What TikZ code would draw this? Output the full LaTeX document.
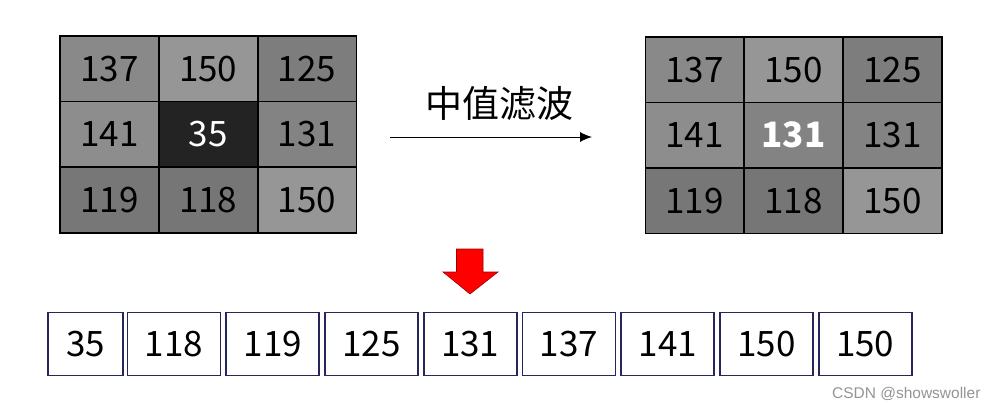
\documentclass[tikz,border=0pt]{standalone}
\usepackage{fontspec}
\usetikzlibrary{arrows.meta}
\setmainfont{Noto Sans CJK SC}
\newfontfamily\wmfont{Liberation Sans}
\begin{document}
\begin{tikzpicture}[x=1pt,y=-1pt,
  cellbox/.style={draw=black,line width=1.5pt,minimum width=98.5pt,minimum height=65.5pt,inner sep=0pt,font=\fontsize{35}{35}\selectfont,text=black},
  seqbox/.style={draw=blue!25!black!85,line width=1.6pt,minimum width=93pt,minimum height=63pt,inner sep=0pt,font=\fontsize{35}{35}\selectfont,text=black,fill=white}]
\useasboundingbox (0,0) rectangle (999,410);
% left grid
\foreach \v [count=\i from 0] in {137,150,125,141,35,131,119,118,150} {
  \pgfmathtruncatemacro{\c}{mod(\i,3)}
  \pgfmathtruncatemacro{\r}{div(\i,3)}
  \definecolor{cc}{RGB}{\v,\v,\v}
  \node[cellbox,fill=cc] (L\i) at ({60+98.8*\c+49.4},{36+65.6*\r+32.8}) {\ifnum\i=4\else\v\fi};
}
\node[text=white,font=\fontsize{35}{35}\selectfont] at (L4) {35};
% right grid
\foreach \v [count=\i from 0] in {137,150,125,141,131,131,119,118,150} {
  \pgfmathtruncatemacro{\c}{mod(\i,3)}
  \pgfmathtruncatemacro{\r}{div(\i,3)}
  \definecolor{cc}{RGB}{\v,\v,\v}
  \node[cellbox,fill=cc] (R\i) at ({645+99*\c+49.5},{37+65.5*\r+32.75}) {\ifnum\i=4\else\v\fi};
}
\node[text=white,font=\fontsize{35}{35}\selectfont\bfseries] at (R4) {131};
% arrow
\coordinate (a1) at (390,137);
\coordinate (a2) at (592,137);
\draw[line width=1pt,-{Latex[length=12pt,width=10pt]}] (a1) -- (a2);
\node[font=\fontsize{37}{37}\selectfont] (lab) at (499,104) {中值滤波};
% red arrow
\draw[draw=red!60!black,fill=red,line width=0.6pt] (456.5,249) -- (483,249) -- (483,272) -- (498,272) -- (470,294) -- (443,272) -- (456.5,272) -- cycle;
% sequence
\node[seqbox,minimum width=75pt] (s1) at (85.5,344) {35};
\foreach \v [count=\i from 2] in {118,119,125,131,137,141,150,150} {
  \node[seqbox] (s\i) at ({174+98.75*(\i-2)},344) {\v};
}
\node[font=\wmfont\fontsize{15.5}{15.5}\selectfont,text=black!42,anchor=east] (wm) at (984,394) {CSDN @showswoller};
\end{tikzpicture}
\end{document}
